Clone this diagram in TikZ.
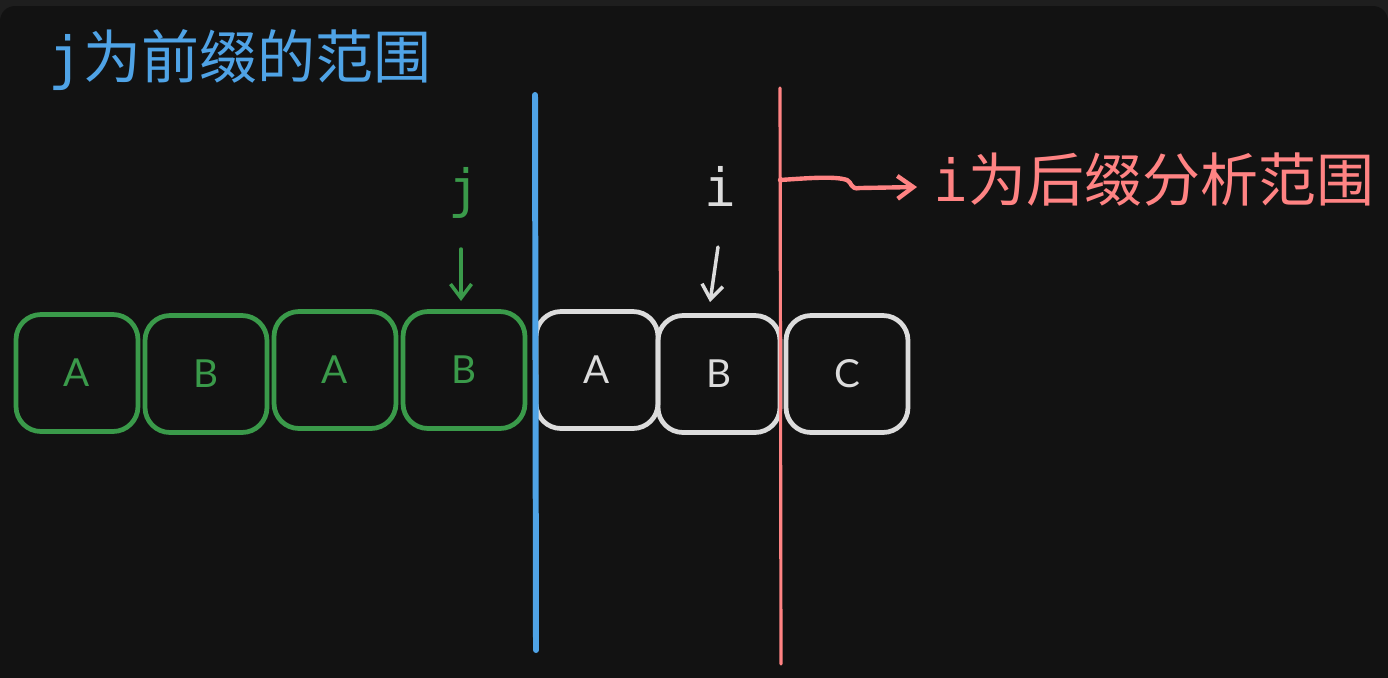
\documentclass[tikz,border=0pt]{standalone}
\usepackage{fontspec}
\setmainfont{Lato}
\newfontfamily\cjk{Noto Sans CJK SC}
\newfontfamily\mono{DejaVu Sans Mono}
\usetikzlibrary{arrows.meta}
\definecolor{bg}{HTML}{121212}
\definecolor{bgtop}{HTML}{1E1E1E}
\definecolor{cgreen}{HTML}{3A9A4A}
\definecolor{cblue}{HTML}{4FA3E6}
\definecolor{cred}{HTML}{FF8383}
\definecolor{cwhite}{HTML}{DCDCDC}
\tikzset{
  cell/.style={draw, line width=2.7pt, rounded corners=0.5cm, minimum width=2.44cm, minimum height=2.34cm, inner sep=0pt, font=\fontsize{22}{24}\selectfont},
  gcell/.style={cell, draw=cgreen, text=cgreen},
  wcell/.style={cell, draw=cwhite, text=cwhite},
  ptr/.style={line width=2pt, -{Straight Barb[length=8pt,width=12pt,line width=2pt]}, line cap=round},
  bigtxt/.style={anchor=base west, inner sep=0pt, font=\cjk\fontsize{33}{37}\selectfont},
  ptrtxt/.style={anchor=base, inner sep=0pt, font=\mono\fontsize{30}{32}\selectfont},
}
\begin{document}
\begin{tikzpicture}[x=0.02cm,y=-0.02cm]
\useasboundingbox (0,0) rectangle (1388,677);
\fill[bgtop] (0,0) rectangle (1388,677);
\fill[bg, rounded corners=0.3cm] (0,6) rectangle (1388,700);
% title
\node[bigtxt, text=cblue] (title) at (48,78) {{\mono j}为前缀的范围};
% cells
\node[gcell] (c1) at (77,373) {A};
\node[gcell] (c2) at (206,374) {B};
\node[gcell] (c3) at (335,370) {A};
\node[gcell] (c4) at (464,370) {B};
\node[wcell] (c5) at (597,370) {A};
\node[wcell] (c6) at (719,374) {B};
\node[wcell] (c7) at (847,374) {C};
% dividers
\coordinate (bt) at (535,95);
\coordinate (bb) at (536,650);
\draw[cblue, line width=3.4pt, line cap=round] (bt) -- (bb);
\coordinate (rt) at (780,88);
\coordinate (rb) at (781,664);
\draw[cred, line width=1.8pt, line cap=round] (rt) -- (rb);
% pointers
\node[ptrtxt, text=cgreen] (jl) at (464,207) {j};
\node[ptrtxt, text=cwhite] (il) at (720,206) {i};
\coordinate (ja) at (461,249);
\coordinate (jb) at (461,301);
\draw[ptr, cgreen] (ja) -- (jb);
\coordinate (ia) at (718,247);
\coordinate (ib) at (710,302);
\draw[ptr, cwhite] (ia) -- (ib);
% red label and wavy arrow
\node[bigtxt, text=cred] (rlab) at (933,201) {{\mono i}为后缀分析范围};
\coordinate (wa) at (780,180);
\coordinate (wb) at (917,187);
\draw[cred, line width=2.5pt, line cap=round, -{Straight Barb[length=9pt,width=13pt,line width=2.5pt]}]
  (wa) .. controls (810,178) and (835,176) .. (847,180)
       .. controls (852,182) and (850,190) .. (860,188)
       -- (wb);
\end{tikzpicture}
\end{document}
